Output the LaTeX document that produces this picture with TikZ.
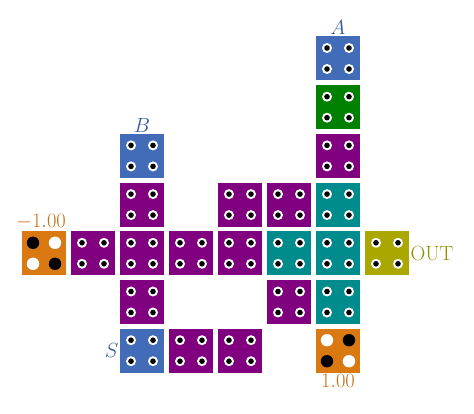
\RequirePackage{fix-cm}
\documentclass[tikz,border=0pt]{standalone}
\usepackage{tikz}
\usetikzlibrary{positioning}

\definecolor{cblue}{RGB}{66,108,184}
\definecolor{cpurple}{RGB}{128,0,128}
\definecolor{cgreen}{RGB}{0,128,0}
\definecolor{cteal}{RGB}{0,140,140}
\definecolor{colive}{RGB}{170,168,0}
\definecolor{corange}{RGB}{218,120,18}
\definecolor{tblue}{RGB}{55,90,160}
\definecolor{torange}{RGB}{196,112,24}
\definecolor{tolive}{RGB}{145,145,5}

\begin{document}
\begin{tikzpicture}[
		x=49pt, y=-48.7pt,
		cell/.style = {
			rectangle, minimum size=44pt,
			outer sep=0pt, inner sep=0pt,
			path picture={
				\foreach \dx in {-1,1} \foreach \dy in {-1,1} {
					\fill[white] ([shift={(\dx*11pt,\dy*10.5pt)}]path picture bounding box.center) circle (5pt);
					\fill[black] ([shift={(\dx*11pt,\dy*10.5pt)}]path picture bounding box.center) circle (2.8pt);
				}
			}
		},
		blu/.style = {cell, fill=cblue},
		pur/.style = {cell, fill=cpurple},
		grn/.style = {cell, fill=cgreen},
		tea/.style = {cell, fill=cteal},
		olv/.style = {cell, fill=colive},
		sgn/.style = {rectangle, minimum size=44pt, outer sep=0pt, inner sep=0pt, fill=corange},
		lbl/.style = {inner sep=1.5pt, font=\fontsize{20.5}{23}\selectfont}
		]
		\useasboundingbox (-44pt,58.5pt) rectangle (430pt,-355.5pt);
		%\draw (0,0) grid (7,6);
		% column 6, top to bottom
		\node[blu] (a) at (6,0) {};
		\node[grn] (g61) at (6,1) {};
		\node[pur] (p62) at (6,2) {};
		\node[tea] (t63) at (6,3) {};
		\node[tea] (t64) at (6,4) {};
		\node[tea] (t65) at (6,5) {};
		\node[sgn] (m) at (6,6) {};
		% column 2, top to bottom
		\node[blu] (b) at (2,2) {};
		\node[pur] (p23) at (2,3) {};
		\node[pur] (p24) at (2,4) {};
		\node[pur] (p25) at (2,5) {};
		\node[blu] (s) at (2,6) {};
		% the rest
		\node[sgn] (n) at (0,4) {};
		\node[pur] (p14) at (1,4) {};
		\node[pur] (p34) at (3,4) {};
		\node[pur] (p44) at (4,4) {};
		\node[tea] (t54) at (5,4) {};
		\node[olv] (out) at (7,4) {};
		\node[pur] (p43) at (4,3) {};
		\node[pur] (p53) at (5,3) {};
		\node[pur] (p55) at (5,5) {};
		\node[pur] (p36) at (3,6) {};
		\node[pur] (p46) at (4,6) {};

		\foreach \dx/\dy/\col in {-1/1/black, 1/1/white, -1/-1/white, 1/-1/black}
			\fill[\col] ([shift={(\dx*11pt,\dy*10.5pt)}]n.center) circle (6.2pt);
		\foreach \dx/\dy/\col in {-1/1/white, 1/1/black, -1/-1/black, 1/-1/white}
			\fill[\col] ([shift={(\dx*11pt,\dy*10.5pt)}]m.center) circle (6.2pt);

		\node[lbl, anchor=south, text=tblue] (la) at (a.north) {$A$};
		\node[lbl, anchor=south, text=tblue] (lb) at (b.north) {$B$};
		\node[lbl, anchor=east, text=tblue] (ls) at (s.west) {$S$};
		\node[lbl, anchor=south, text=torange, xshift=-3pt] (ln) at (n.north) {$-1.00$};
		\node[lbl, anchor=north, text=torange] (lm) at (m.south) {$1.00$};
		\node[lbl, anchor=west, text=tolive] (lo) at (out.east) {OUT};
	\end{tikzpicture}
\end{document}
